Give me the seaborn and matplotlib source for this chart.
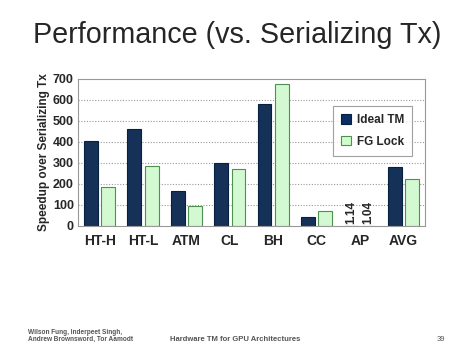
import numpy as np
import pandas as pd
import matplotlib
matplotlib.use('Agg')
import matplotlib.pyplot as plt
import seaborn as sns

categorias = ['HT-H', 'HT-L', 'ATM', 'CL', 'BH', 'CC', 'AP', 'AVG']
ideal_tm = [403, 462, 165, 300, 580, 45, 1.14, 280]
fg_lock = [185, 285, 97, 272, 675, 72, 1.04, 225]
series = ['Ideal TM', 'FG Lock']
ticks_y = [0, 100, 200, 300, 400, 500, 600, 700]

sns.set_style('white')
plt.rcParams['font.family'] = ['Liberation Sans', 'DejaVu Sans']

df = pd.DataFrame({'cat': categorias * 2,
                   'serie': [series[0]] * len(categorias) + [series[1]] * len(categorias),
                   'valor': ideal_tm + fg_lock})

colores = {'Ideal TM': '#0b2f63', 'FG Lock': '#ccffcc'}
bordes = ['#06203f', '#4f8f4f']

fig = plt.figure(figsize=(4.74, 3.55), dpi=100)
ax = fig.add_axes([0.1646, 0.3634, 0.732, 0.4141])
sns.barplot(data=df, x='cat', y='valor', hue='serie', palette=colores,
            gap=0.2, width=0.8, ax=ax, legend=False)
for cont, b in zip(ax.containers, bordes):
    for p in cont:
        p.set_edgecolor(b)
        p.set_linewidth(0.8)

ax.set_ylim(0, 700)
ax.set_xlim(-0.5, len(categorias) - 0.5)
ax.set_yticks(ticks_y)
ax.set_yticklabels([str(t) for t in ticks_y], fontsize=9, fontweight='bold')
ax.set_xticklabels(categorias, fontsize=10, fontweight='bold')
ax.set_xlabel('')
ax.set_ylabel('Speedup over Serializing Tx', fontsize=8.5, fontweight='bold', labelpad=2)
ax.tick_params(axis='y', length=0, pad=3)
ax.tick_params(axis='x', length=0, pad=6)
for y in ticks_y[1:-1]:
    ax.axhline(y, color='#999999', lw=0.8, ls=(0, (1, 1.5)), zorder=0)
for s in ax.spines.values():
    s.set_color('#999999')
    s.set_linewidth(0.8)

# etiquetas de AP
ap = categorias.index('AP')
ax.text(ap - 0.2, 8, '1.14', rotation=90, ha='center', va='bottom', fontsize=8.5, fontweight='bold')
ax.text(ap + 0.2, 8, '1.04', rotation=90, ha='center', va='bottom', fontsize=8.5, fontweight='bold')

handles = [plt.Rectangle((0, 0), 1, 1, facecolor=colores[s], edgecolor=b, lw=0.8)
           for s, b in zip(series, bordes)]
leg = ax.legend(handles, series, loc='upper left', bbox_to_anchor=(327 / 474, 1 - 100 / 355),
                bbox_transform=fig.transFigure, frameon=True, fancybox=False,
                prop={'weight': 'bold', 'size': 8.5}, handlelength=0.8, handleheight=0.9,
                handletextpad=0.5, labelspacing=0.8, borderpad=0.7)
leg.get_frame().set_edgecolor('#888888')
leg.get_frame().set_linewidth(0.8)

fig.text(0.5, 1 - 43 / 355, 'Performance (vs. Serializing Tx)', ha='center', va='baseline', fontsize=20.7)
fig.text(28 / 474, 1 - 341 / 355, 'Wilson Fung, Inderpeet Singh,\nAndrew Brownsword, Tor Aamodt',
         fontsize=4.7, fontweight='bold', color='#555555', va='baseline', linespacing=1.1)
fig.text(170 / 474, 1 - 341 / 355, 'Hardware TM for GPU Architectures', fontsize=5.5,
         fontweight='bold', color='#555555', va='baseline')
fig.text(437 / 474, 1 - 341 / 355, '39', fontsize=5.5, color='#555555', va='baseline')

fig.savefig('out.png', dpi=100)
